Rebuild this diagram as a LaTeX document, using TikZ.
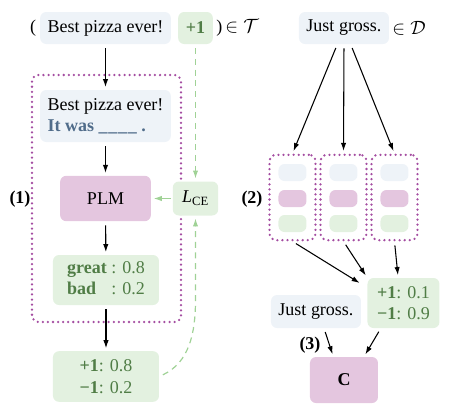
\documentclass[tikz,border=0pt]{standalone}
\usepackage{fontspec}
\setmainfont{Liberation Serif}
\usetikzlibrary{positioning,arrows,arrows.meta,calc}
\definecolor{qblue}{RGB}{238,243,248}
\definecolor{qpink}{RGB}{228,198,223}
\definecolor{qgreen}{RGB}{227,241,224}
\definecolor{qpurple}{RGB}{164,77,161}
\definecolor{qdash}{RGB}{160,210,150}
\definecolor{tgreen}{RGB}{80,125,70}
\definecolor{tblue}{RGB}{80,108,138}
\tikzset{
  box/.style={rounded corners=4.5pt,inner sep=0pt,align=center},
  frame/.style={draw=qpurple,line width=1.9pt,line cap=round,dash pattern=on 0pt off 3.8pt,rounded corners=5pt},
  gdash/.style={draw=qdash,line width=0.9pt,dash pattern=on 4.5pt off 3.5pt},
  arr/.style={-{Latex[length=6pt,width=4pt]},line width=0.8pt,shorten <=3pt,shorten >=2pt}
}
\begin{document}
\begin{tikzpicture}[x=0.75pt,y=-0.75pt,font=\fontsize{13.5}{16}\selectfont]
\useasboundingbox (0,0) rectangle (455,419);

\node[inner sep=0pt] (lpar) at (33,28) {(};
\node[box,fill=qblue,minimum width=98pt,minimum height=24pt] (src) at (105.5,28) {Best pizza ever!};
\node[box,fill=qgreen,minimum width=26pt,minimum height=24pt,text=tgreen] (lab) at (195.5,28) {\textbf{+1}};
\node[anchor=west,inner sep=0pt] (rpar) at (216,28) {)\,$\in\mathcal{T}$};

\draw[frame] (32,75) rectangle (181,322);
\node (n1) at (20,199) {\textbf{(1)}};

\node[box,fill=qblue,minimum width=98pt,minimum height=39pt,align=left] (tmpl) at (105.5,116) {Best pizza ever!\\\textcolor{tblue}{\textbf{It was \_\kern0.6pt\_\kern0.6pt\_\kern0.6pt\_ .}}};
\node[box,fill=qpink,minimum width=68pt,minimum height=34pt] (plm) at (105.5,198.5) {PLM};
\node[box,fill=qgreen,minimum width=34pt,minimum height=25.5pt] (lce) at (195.5,198.5) {\textit{L}\textsubscript{CE}};
\node[box,fill=qgreen,minimum width=79.5pt,minimum height=37.5pt,text=tgreen] (words) at (106,280) {\begin{tabular}{@{}l@{ }l@{}}\textbf{great}&: 0.8\\\textbf{bad}&: 0.2\end{tabular}};
\node[box,fill=qgreen,minimum width=79.5pt,minimum height=38pt,text=tgreen] (probs) at (106,376.5) {\textbf{+1}: 0.8\\\textbf{−1}: 0.2};

\draw[arr] (src) -- (tmpl);
\draw[arr] (tmpl) -- (plm);
\draw[arr] (plm) -- (words);
\draw[arr] (words.south) -- (probs.north);
\draw[arr,draw=qdash,fill=qdash,shorten <=1pt] (lce.west) -- (plm.east);
\draw[gdash,-{Latex[length=6pt,width=4pt]},shorten <=3pt,shorten >=2pt] (lab.south) -- (lce.north);
\coordinate (bend) at (195.5,300);
\draw[gdash,-{Latex[length=6pt,width=4pt]},shorten <=3pt,shorten >=2pt] (probs.east) to[out=25,in=-90] (bend) -- (lce.south);

\node[box,fill=qblue,minimum width=67.5pt,minimum height=24pt] (ex) at (344,28) {Just gross.};
\node[anchor=west,inner sep=0pt] (ind) at (392,28) {$\in\mathcal{D}$};
\node (n2) at (252,199) {\textbf{(2)}};

\foreach \i/\x in {1/292.5,2/343.5,3/394.5} {
  \node[frame,minimum width=34.5pt,minimum height=64pt] (s\i) at (\x,197.5) {};
  \node[box,fill=qblue,minimum width=21pt,minimum height=12.75pt] (s\i a) at (\x,172.5) {};
  \node[box,fill=qpink,minimum width=21pt,minimum height=12.75pt] (s\i b) at (\x,198.5) {};
  \node[box,fill=qgreen,minimum width=21pt,minimum height=12.75pt] (s\i c) at (\x,223.5) {};
}

\draw[arr] ([xshift=-5pt]ex.south) -- (s1.north);
\draw[arr] (ex.south) -- (s2.north);
\draw[arr] ([xshift=5pt]ex.south) -- (s3.north);

\node[box,fill=qgreen,minimum width=54pt,minimum height=37.5pt,text=tgreen] (out) at (403.5,303) {\textbf{+1}: 0.1\\\textbf{−1}: 0.9};
\node[box,fill=qblue,minimum width=67.5pt,minimum height=24.75pt] (ex2) at (316,311.5) {Just gross.};
\node[box,fill=qpink,minimum width=51pt,minimum height=34.5pt] (cls) at (344,380) {\textbf{C}};
\node (n3) at (310,345) {\textbf{(3)}};

\draw[arr] (s1.south) -- ([xshift=-4pt,yshift=-5pt]out.north west);
\draw[arr] (s2.south) -- (out.north west);
\draw[arr] (s3.south) -- ([xshift=-4pt]out.north);
\draw[arr] ([xshift=6pt]ex2.south) -- ([xshift=-8pt]cls.north);
\draw[arr] ([xshift=-17pt]out.south) -- ([xshift=15pt]cls.north);

\end{tikzpicture}
\end{document}
